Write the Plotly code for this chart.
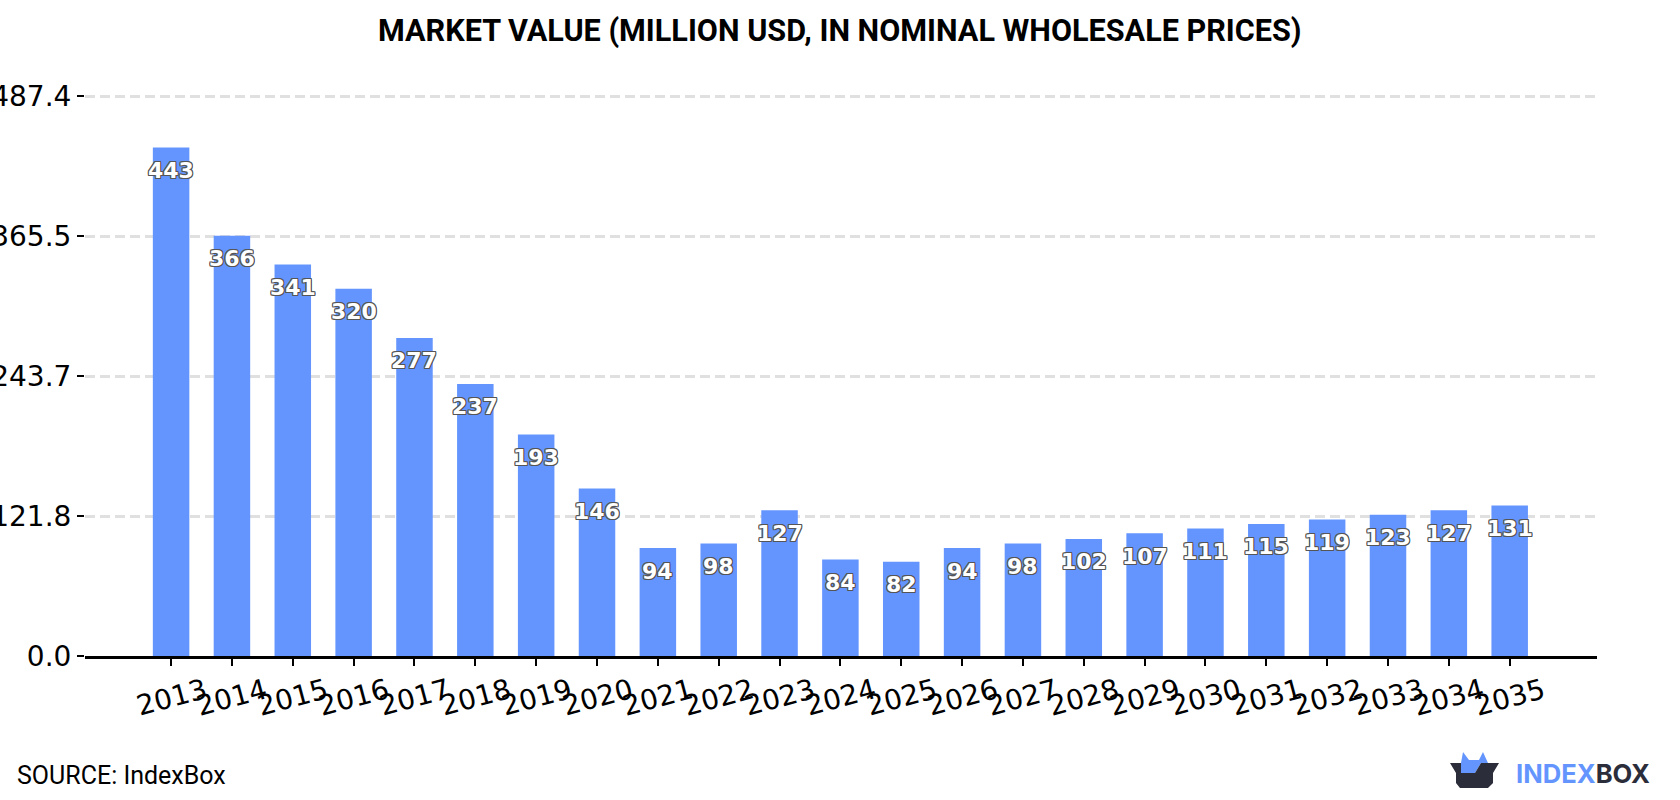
import plotly.graph_objects as go

years = list(range(2013, 2036))
values = [443, 366, 341, 320, 277, 237, 193, 146, 94, 98, 127, 84, 82, 94, 98, 102, 107, 111, 115, 119, 123, 127, 131]
y_ticks = [0.0, 121.8, 243.7, 365.5, 487.4]
y_tick_labels = ["0.0", "121.8", "243.7", "365.5", "487.4"]

W, H = 1680, 800
ML, MR, MT, MB = 85, 83, 93, 144
BLUE = "#6495ff"
DARK = "#2b2d3a"
OUTLINE = ("1px 0 0 #555, -1px 0 0 #555, 0 1px 0 #555, 0 -1px 0 #555, "
           "1px 1px 0 #555, -1px -1px 0 #555, 1px -1px 0 #555, -1px 1px 0 #555")


def px(x):
    # figure pixels to paper coordinates, which span the plot area only
    return (x - ML) / (W - ML - MR)


def py(y):
    return (H - MB - y) / (H - MT - MB)


def path(points):
    return "M" + " L".join(f"{px(x):.5f},{py(y):.5f}" for x, y in points) + " Z"


fig = go.Figure(
    go.Bar(x=years, y=values, width=0.6, marker=dict(color=BLUE, line_width=0), cliponaxis=False)
)

annotations = [
    dict(text="<b>MARKET VALUE (MILLION USD, IN NOMINAL WHOLESALE PRICES)</b>",
         xref="paper", yref="paper", x=px(840), y=py(31), xanchor="center", yanchor="middle",
         showarrow=False, font=dict(family="Roboto", size=30.6, color="#000000")),
    dict(text="SOURCE: IndexBox", xref="paper", yref="paper", x=px(15), y=py(775),
         xanchor="left", yanchor="middle", showarrow=False,
         font=dict(family="Roboto", size=25, color="#000000")),
    dict(text=f"<b><span style='color:{BLUE}'>INDEX</span><span style='color:{DARK}'>BOX</span></b>",
         xref="paper", yref="paper", x=px(1514), y=py(773), xanchor="left", yanchor="middle",
         showarrow=False, font=dict(family="Inter", size=25.6)),
]

# Value labels sit just under the top of each bar
for year, value in zip(years, values):
    annotations.append(dict(
        text=f"<b>{value}</b>", x=year, y=value, xref="x", yref="y", yshift=-23,
        xanchor="center", yanchor="middle", showarrow=False,
        font=dict(family="DejaVu Sans", size=22, color="white", shadow=OUTLINE),
    ))

# Year labels are slanted around their own centre, under each tick
for year in years:
    annotations.append(dict(
        text=str(year), x=year, y=0, xref="x", yref="y", yshift=-41,
        xanchor="center", yanchor="middle", textangle=-15, showarrow=False,
        font=dict(family="DejaVu Sans", size=28, color="#000000"),
    ))

# IndexBox logo: open box with a blue crown
shapes = [
    dict(type="path", xref="paper", yref="paper", line_width=0, fillcolor=BLUE, layer="above",
         path=path([(1461, 773), (1461, 763), (1463, 752), (1469, 760), (1479, 760), (1483, 752),
                    (1488, 763), (1481, 763), (1475, 773)])),
    dict(type="path", xref="paper", yref="paper", line_width=0, fillcolor=DARK, layer="above",
         path=path([(1450, 763), (1461, 763), (1461, 773), (1475, 773), (1481, 763), (1499, 763),
                    (1493, 773), (1493, 783), (1488, 788), (1460, 788), (1456, 783), (1456, 773)])),
]

fig.update_layout(
    width=W, height=H,
    margin=dict(l=ML, r=MR, t=MT, b=MB, autoexpand=False),
    paper_bgcolor="white", plot_bgcolor="white",
    showlegend=False, annotations=annotations, shapes=shapes,
    xaxis=dict(range=[2011.585, 2036.435], tickmode="array", tickvals=years, ticktext=[""] * len(years),
               ticks="outside", ticklen=7, tickwidth=2, tickcolor="#000000",
               showgrid=False, zeroline=False, showline=True, linecolor="#000000", linewidth=3),
    yaxis=dict(range=[0, 490.4], tickmode="array", tickvals=y_ticks, ticktext=y_tick_labels,
               ticks="outside", ticklen=7, tickwidth=2, tickcolor="#000000",
               tickfont=dict(family="DejaVu Sans", size=28, color="#000000"),
               showgrid=True, gridcolor="#e0e0e0", gridwidth=3, griddash="10px,5px",
               zeroline=False, showline=False),
)

fig.write_html("out.html")
